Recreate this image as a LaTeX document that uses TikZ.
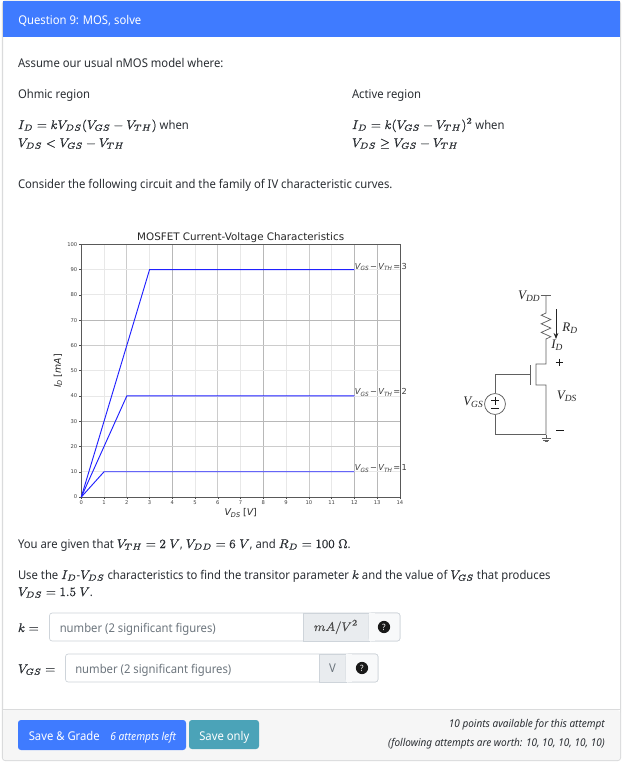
\RequirePackage{fix-cm}
\documentclass[tikz,border=0pt]{standalone}
\usepackage{fontspec}
\usepackage{amsmath}
\setmainfont[FakeStretch=0.935]{Noto Sans}
\newfontfamily\plotfont{DejaVu Sans}
\newfontfamily\cktfont{Liberation Serif}
\usetikzlibrary{arrows.meta}
\definecolor{headblue}{HTML}{3F7BFF}
\definecolor{tealbtn}{HTML}{4BA3B8}
\definecolor{cardline}{HTML}{DADBDC}
\definecolor{foot}{HTML}{F6F6F6}
\definecolor{inputline}{HTML}{CED4DA}
\definecolor{addon}{HTML}{E9ECEF}
\definecolor{helpbg}{HTML}{F8F9FA}
\definecolor{ink}{HTML}{2A2E33}
\definecolor{holder}{HTML}{6C757D}
\definecolor{gridA}{HTML}{B8B8B8}
\definecolor{gridB}{HTML}{CCCCCC}
\definecolor{gridC}{HTML}{E8E8E8}
\definecolor{wire}{HTML}{606060}
\definecolor{curveblue}{HTML}{2020FF}
\newcommand{\plotsub}[1]{\raisebox{-0.25ex}{\scalebox{0.7}{#1}}}
\newcommand{\vlab}[1]{{\itshape V\plotsub{GS}\,{\upshape−}\,V\plotsub{TH}\,{\upshape=}\,{\upshape #1}}}
\newcommand{\cv}[2]{{\cktfont\itshape #1\raisebox{-0.3ex}{\scalebox{0.72}{#2}}}}
\newcommand{\hm}[1]{\special{pdf:code 2 Tr 0.07 w}{\fontsize{9.4}{11}\selectfont$#1$}\special{pdf:code 0 Tr 0.4 w}}
\tikzset{
  x=0.75pt,y=-0.75pt,
  body/.style={anchor=base west,inner sep=0pt,outer sep=0pt,text=ink,font=\fontsize{9.05}{11}\selectfont},
  tick/.style={inner sep=0pt,font=\plotfont\fontsize{3.9}{4}\selectfont,text=black!75},
  anno/.style={anchor=west,inner sep=0pt,font=\plotfont\fontsize{6.2}{7}\selectfont,text=black!75},
  curve/.style={draw=curveblue,line width=0.7pt},
  ckt/.style={draw=wire,line width=0.55pt},
  cktlab/.style={inner sep=0pt,text=black!85,font=\fontsize{9.8}{10}\selectfont},
  holdertxt/.style={anchor=base west,inner sep=0pt,text=holder,font=\fontsize{9.05}{11}\selectfont},
  helpdot/.style={circle,fill=black!90,minimum size=9.2pt,inner sep=0pt,text=white,font=\bfseries\fontsize{6.5}{7}\selectfont},
}
\begin{document}
\begin{tikzpicture}
\useasboundingbox (0,0) rectangle (623,765);
\fill[white] (0,0) rectangle (623,765);
% card
\draw[cardline,line width=0.75pt,rounded corners=2pt] (2.5,1) rectangle (620.5,760.5);
\fill[headblue] (3,1) rectangle (620,37);
\fill[foot,rounded corners=2pt] (3,710) rectangle (620,760);
\draw[cardline,line width=0.75pt] (3,709.5) -- (620,709.5);
\node[anchor=base west,inner sep=0pt,text=white,font=\fontsize{9.05}{11}\selectfont] (title) at (18,24) {Question 9: MOS, solve};
% intro
\node[body] (assume) at (18,67) {Assume our usual nMOS model where:};
\node[body] (ohmic) at (18,98) {Ohmic region};
\node[body] (active) at (352,98) {Active region};
\node[body] (f1) at (18,129) {\hm{I_D = kV_{DS}(V_{GS}-V_{TH})} when};
\node[body] (f2) at (18,147) {\hm{V_{DS} < V_{GS}-V_{TH}}};
\node[body] (f3) at (352,129) {\hm{I_D = k(V_{GS}-V_{TH})^2} when};
\node[body] (f4) at (352,147) {\hm{V_{DS} \geq V_{GS}-V_{TH}}};
\node[body] (consider) at (18,188) {Consider the following circuit and the family of IV characteristic curves.};
% plot grid
\foreach \v/\c in {1/gridC,2/gridB,3/gridC,4/gridA,5/gridC,6/gridB,7/gridC,8/gridA,9/gridC,10/gridB,11/gridC,12/gridA,13/gridA}
  \draw[\c,line width=0.6pt] ({81.3+\v*22.76},244.3) -- ({81.3+\v*22.76},497);
\foreach \v/\c in {10/gridC,20/gridB,30/gridA,40/gridC,50/gridC,60/gridB,70/gridA,80/gridC,90/gridC}
  \draw[\c,line width=0.6pt] (81.3,{497-\v*2.527}) -- (400,{497-\v*2.527});
\draw[black!65,line width=0.5pt] (81.3,244.3) rectangle (400,497);
\foreach \v in {0,...,14} {
  \draw[black!70,line width=0.35pt] ({81.3+\v*22.76},497) -- ({81.3+\v*22.76},499);
  \node[tick] at ({81.3+\v*22.76},503) {\v};
}
\foreach \v in {0,10,...,100} {
  \draw[black!70,line width=0.35pt] (81.3,{497-\v*2.527}) -- (79.3,{497-\v*2.527});
  \node[tick,anchor=east] at (77.5,{497-\v*2.527}) {\v};
}
\coordinate (o) at (81.3,497);
\coordinate (a3) at ({81.3+3*22.76},{497-90*2.527});
\coordinate (b3) at ({81.3+12*22.76},{497-90*2.527});
\coordinate (a2) at ({81.3+2*22.76},{497-40*2.527});
\coordinate (b2) at ({81.3+12*22.76},{497-40*2.527});
\coordinate (a1) at ({81.3+1*22.76},{497-10*2.527});
\coordinate (b1) at ({81.3+12*22.76},{497-10*2.527});
\draw[curve] (o) -- (a3) -- (b3);
\draw[curve] (o) -- (a2) -- (b2);
\draw[curve] (o) -- (a1) -- (b1);
\node[anno] (l3) at (354.7,266.6) {\vlab{3}};
\node[anno] (l2) at (354.7,392.5) {\vlab{2}};
\node[anno] (l1) at (354.7,468.5) {\vlab{1}};
\node[inner sep=0pt,text=black!85,font=\plotfont\fontsize{7.75}{9}\selectfont] (ptitle) at (240.7,237.5) {MOSFET Current-Voltage Characteristics};
\node[inner sep=0pt,text=black!85,rotate=90,font=\plotfont\fontsize{7}{8}\selectfont] (ylab) at (58,371) {{\itshape I\plotsub{D}} [{\itshape mA}]};
\node[inner sep=0pt,text=black!85,font=\plotfont\fontsize{7}{8}\selectfont] (xlab) at (240.7,513) {{\itshape V\plotsub{DS}} [{\itshape V}]};
% circuit
\coordinate (vddL) at (540.7,295.7);
\coordinate (vddR) at (551.3,295.7);
\coordinate (vdd) at (546,295.7);
\coordinate (r1) at (546,313);
\coordinate (r2) at (546,339);
\coordinate (drain) at (546,364);
\coordinate (source) at (546,385);
\coordinate (gnd) at (546,434.7);
\coordinate (gndb) at (546,438);
\coordinate (d1) at (536,364);
\coordinate (s1) at (536,385);
\coordinate (gate) at (530,374.3);
\coordinate (gL) at (495,374.3);
\coordinate (botL) at (495,434.7);
\draw[ckt] (vddL) -- (vddR);
\draw[ckt] (vdd) -- (r1) -- ++(-4.8,2.2) -- ++(9.6,4.3) -- ++(-9.6,4.3) -- ++(9.6,4.3) -- ++(-9.6,4.3) -- ++(9.6,4.3) -- (r2) -- (drain) -- (d1) -- (s1) -- (source) -- (gnd);
\draw[ckt] (530,365) -- (530,384.7);
\draw[ckt] (gate) -- (gL);
\node[circle,ckt,draw,fill=white,minimum size=15.7pt,inner sep=0pt] (vs) at (495,404) {};
\draw[ckt] (gL) -- (vs.north);
\draw[ckt] (vs.south) -- (botL) -- (gnd);
\draw[ckt] (gnd) -- (gndb);
\draw[ckt,line width=0.4pt] (541.5,438) -- (550.5,438);
\draw[ckt,line width=0.4pt] (543,439.8) -- (549,439.8);
\draw[ckt,line width=0.4pt] (544.5,441.6) -- (547.5,441.6);
\draw[black!90,line width=0.75pt] (491,400.5) -- (499,400.5) (495,396.5) -- (495,404.5);
\draw[black!90,line width=0.75pt] (491,408.5) -- (499,408.5);
\coordinate (iT) at (556,309);
\coordinate (iB) at (556,339);
\draw[black!85,line width=0.6pt,-{Stealth[length=4.5pt,width=3.5pt]}] (iT) -- (iB);
\node[cktlab,anchor=east] (Lvdd) at (540,296) {\cv{V}{DD}};
\node[cktlab,anchor=west] (Lrd) at (562,328) {\cv{R}{D}};
\node[cktlab,anchor=west] (Lid) at (551,345) {\cv{I}{D}};
\draw[black!90,line width=0.75pt] (555.5,362) -- (562.5,362) (559,358.5) -- (559,365.5);
\node[cktlab,anchor=west] (Lvds) at (556.5,396) {\cv{V}{DS}};
\draw[black!90,line width=0.75pt] (556,430) -- (563.5,430);
\node[cktlab,anchor=east] (Lvgs) at (483,402) {\cv{V}{GS}};
% given text
\node[body] (given) at (18,548) {You are given that \hm{V_{TH}=2\;V}, \hm{V_{DD}=6\;V}, and \hm{R_D=100\;\Omega}.};
\node[body] (use1) at (18,579) {Use the \hm{I_D}-\hm{V_{DS}} characteristics to find the transitor parameter \hm{k} and the value of \hm{V_{GS}} that produces};
\node[body] (use2) at (18,596) {\hm{V_{DS}=1.5\;V}.};
% input k
\node[body] (klab) at (18,632) {\hm{k=}};
\filldraw[fill=white,draw=inputline,line width=0.5pt,rounded corners=2pt] (49.5,613) rectangle (400,641);
\filldraw[fill=addon,draw=inputline,line width=0.5pt] (303,613) rectangle (369,641);
\filldraw[fill=helpbg,draw=inputline,line width=0.5pt,rounded corners=2pt] (369,613) rectangle (400,641);
\fill[helpbg] (369.2,613.3) rectangle (375,640.7);
\node[holdertxt] (kholder) at (59.5,632) {number (2 significant figures)};
\node[inner sep=0pt,text=black!70,font=\fontsize{9.05}{11}\selectfont] (kunit) at (336,627) {\hm{mA/V^2}};
\node[helpdot] (khelp) at (384,627) {?};
% input vgs
\node[body] (vlab) at (18,673) {\hm{V_{GS}=}};
\filldraw[fill=white,draw=inputline,line width=0.5pt,rounded corners=2pt] (65.5,654) rectangle (378,682);
\filldraw[fill=addon,draw=inputline,line width=0.5pt] (319,654) rectangle (346,682);
\filldraw[fill=helpbg,draw=inputline,line width=0.5pt,rounded corners=2pt] (346,654) rectangle (378,682);
\fill[helpbg] (346.2,654.3) rectangle (352,681.7);
\node[holdertxt] (vholder) at (75,673) {number (2 significant figures)};
\node[inner sep=0pt,text=holder,font=\fontsize{9.05}{11}\selectfont] (vunit) at (332.5,668.5) {V};
\node[helpdot] (vhelp) at (362,668) {?};
% buttons
\fill[headblue,rounded corners=2.2pt] (18,720) rectangle (186,750);
\fill[tealbtn,rounded corners=2.2pt] (189,720) rectangle (259,749);
\node[anchor=base west,inner sep=0pt,text=white,font=\fontsize{9.05}{11}\selectfont] (save) at (28.5,740) {Save \& Grade};
\node[anchor=base west,inner sep=0pt,text=white,font=\itshape\fontsize{8.2}{9}\selectfont] (att) at (110,740) {6 attempts left};
\node[anchor=base west,inner sep=0pt,text=white,font=\fontsize{9.05}{11}\selectfont] (only) at (199,740) {Save only};
\node[anchor=base east,inner sep=0pt,text=ink,font=\itshape\fontsize{8.03}{9}\selectfont] (pts) at (605,727) {10 points available for this attempt};
\node[anchor=base east,inner sep=0pt,text=ink,font=\itshape\fontsize{8.03}{9}\selectfont] (foll) at (605,746) {(following attempts are worth: 10, 10, 10, 10, 10)};
\end{tikzpicture}
\end{document}
